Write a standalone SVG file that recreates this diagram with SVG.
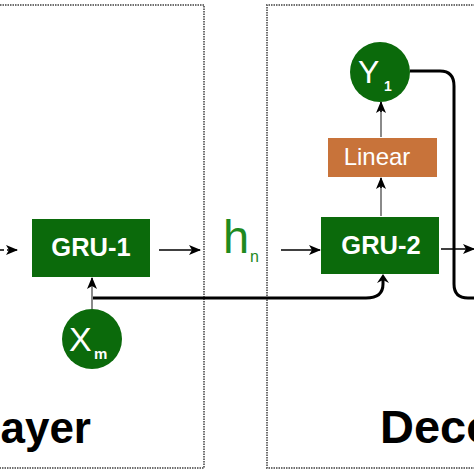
<svg xmlns="http://www.w3.org/2000/svg" width="474" height="474" viewBox="0 0 474 474">
<defs>
<style>
.frame{fill:none;stroke:#6e6e6e;stroke-width:2;stroke-dasharray:1.5 1}
.gru{fill:#0b6a0b}
.lin{fill:#c8733a}
.node{fill:#0b6a0b}
.lbl{font-family:"Liberation Sans",Arial,sans-serif;fill:#fff}
.b{font-weight:bold}
.arr{fill:none;stroke:#000;stroke-width:1.6}
.grey{fill:none;stroke:#8a8a8a;stroke-width:2}
.thick{fill:none;stroke:#000;stroke-width:3}
.title{font-family:"Liberation Sans",Arial,sans-serif;font-weight:bold;font-size:47px;fill:#000}
</style>
<marker id="ah" viewBox="0 0 12 10" refX="11" refY="5" markerWidth="12" markerHeight="10" markerUnits="userSpaceOnUse" orient="auto">
<path d="M0,0 L12,5 L0,10 L3,5 z" fill="#000"/>
</marker>
</defs>
<rect width="474" height="474" fill="#fff"/>
<g id="frames">
<path class="frame" d="M-5,5 H204 V468 H-5"/>
<path class="frame" d="M480,5 H267 V468 H480"/>
</g>
<g id="connectors">
<path class="arr" d="M0,250 H17" stroke-dasharray="4 3" marker-end="url(#ah)"/>
<path class="arr" d="M159,250 H200" marker-end="url(#ah)"/>
<path class="arr" d="M281,250 H320" marker-end="url(#ah)"/>
<path class="arr" d="M441,249 H474" marker-end="url(#ah)"/>
<path class="grey" d="M92,309 V281"/>
<path class="arr" d="M92,286 V278" marker-end="url(#ah)"/>
<path class="grey" d="M381,216 V182"/>
<path class="arr" d="M381,188 V178" marker-end="url(#ah)"/>
<path class="grey" d="M381,137 V106"/>
<path class="arr" d="M381,112 V102" marker-end="url(#ah)"/>
<path class="thick" d="M93,298 H366 Q383,298 383,284 V279"/>
<path d="M377,283 L383,274 L389,283 L383,280 z" fill="#000"/>
<path class="thick" d="M410,71 H440 Q454,71 454,86 V284 Q454,298 468,298 H480"/>
</g>
<g id="gru1">
<rect class="gru" x="32" y="219" width="118" height="58"/>
<text class="lbl b" x="91" y="256" font-size="25.5" text-anchor="middle">GRU-1</text>
</g>
<g id="gru2">
<rect class="gru" x="321" y="217" width="118" height="57"/>
<text class="lbl b" x="381" y="254" font-size="25.5" text-anchor="middle">GRU-2</text>
</g>
<g id="linear">
<rect class="lin" x="328" y="138" width="109" height="39"/>
<text class="lbl" x="377" y="165" font-size="24" text-anchor="middle">Linear</text>
</g>
<g id="y1">
<circle class="node" cx="380" cy="72" r="30"/>
<text class="lbl" x="358" y="83" font-size="32">Y</text>
<text class="lbl b" x="384" y="91" font-size="14">1</text>
</g>
<g id="xm">
<circle class="node" cx="92" cy="339" r="30"/>
<text class="lbl" x="69" y="351" font-size="34">X</text>
<text class="lbl b" x="94" y="359" font-size="15">m</text>
</g>
<g id="hn">
<text x="223" y="253" font-family="'Liberation Sans',Arial,sans-serif" font-size="47" fill="#1f8a1f">h</text>
<text x="250" y="262" font-family="'Liberation Sans',Arial,sans-serif" font-size="16" fill="#1f8a1f">n</text>
</g>
<g id="labels">
<text class="title" x="91" y="443" text-anchor="end" style="font-size:44px">ayer</text>
<text class="title" x="380" y="443">Deco</text>
</g>
</svg>
